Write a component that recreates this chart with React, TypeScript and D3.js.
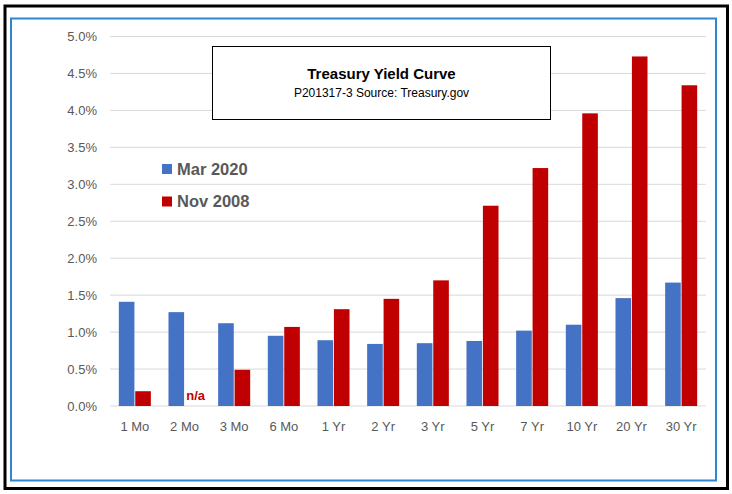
import React from "react";
import * as d3 from "d3";

const categories = ["1 Mo", "2 Mo", "3 Mo", "6 Mo", "1 Yr", "2 Yr", "3 Yr", "5 Yr", "7 Yr", "10 Yr", "20 Yr", "30 Yr"];
const seriesNames = ["Mar 2020", "Nov 2008"];
const mar2020: (number | null)[] = [1.41, 1.27, 1.12, 0.95, 0.89, 0.84, 0.85, 0.88, 1.02, 1.10, 1.46, 1.67];
const nov2008: (number | null)[] = [0.20, null, 0.49, 1.07, 1.31, 1.45, 1.70, 2.71, 3.22, 3.96, 4.73, 4.34];
const yTicks = [0, 0.5, 1.0, 1.5, 2.0, 2.5, 3.0, 3.5, 4.0, 4.5, 5.0];
const colors = ["#4472C4", "#C00000"];
const titleText = "Treasury Yield Curve";
const subtitleText = "P201317-3 Source: Treasury.gov";

export default function App() {
  const W = 732, H = 494;
  const x = d3.scaleBand<string>().domain(categories).range([110, 706]).paddingInner(0.355).paddingOuter(0.1775);
  const xs = d3.scaleBand<string>().domain(seriesNames).range([0, x.bandwidth()]).paddingInner(0.05);
  const y = d3.scaleLinear().domain([0, 5]).range([406, 36.5]);
  const series = [mar2020, nov2008];
  const font = "'Liberation Sans', Arial, sans-serif";
  const grey = "#595959";

  return (
    <svg width={W} height={H} style={{ position: "absolute", left: 0, top: 0, background: "#fff" }} fontFamily={font}>
      <rect x={0} y={0} width={W} height={H} fill="#fff" />
      <rect x={5} y={6} width={722.5} height={482.5} fill="none" stroke="#000" strokeWidth={3} />
      <rect x={11} y={18.5} width={705} height={462} fill="none" stroke="#2E86D0" strokeWidth={2} />
      {/* grid */}
      {yTicks.map((t) => (
        <g key={t}>
          <line x1={110} x2={706} y1={y(t)} y2={y(t)} stroke="#d9d9d9" strokeWidth={1} />
          <text x={97} y={y(t)} dy="0.35em" textAnchor="end" fontSize={13} fill={grey}>
            {t.toFixed(1) + "%"}
          </text>
        </g>
      ))}
      {/* bars */}
      {series.map((vals, si) =>
        vals.map((v, i) =>
          v == null ? null : (
            <rect
              key={si + "-" + i}
              x={(x(categories[i]) as number) + (xs(seriesNames[si]) as number)}
              y={y(v)}
              width={xs.bandwidth()}
              height={y(0) - y(v)}
              fill={colors[si]}
            />
          )
        )
      )}
      {/* n/a label */}
      {nov2008.map((v, i) =>
        v == null ? (
          <text key={"na" + i} x={(x(categories[i]) as number) + (xs(seriesNames[1]) as number) + xs.bandwidth() / 2 + 3} y={400} textAnchor="middle" fontSize={13} fontWeight="bold" fill="#C00000">
            n/a
          </text>
        ) : null
      )}
      {/* x labels */}
      {categories.map((c) => (
        <text key={c} x={(x(c) as number) + x.bandwidth() / 2} y={431} textAnchor="middle" fontSize={13} fill={grey}>
          {c}
        </text>
      ))}
      {/* title box */}
      <rect x={212.5} y={46.5} width={338} height={73} fill="#fff" stroke="#000" strokeWidth={1} />
      <text x={381.5} y={79} textAnchor="middle" fontSize={15} fontWeight="bold" fill="#000">{titleText}</text>
      <text x={381.5} y={97} textAnchor="middle" fontSize={12} fill="#000">{subtitleText}</text>
      {/* legend */}
      {seriesNames.map((s, i) => (
        <g key={s}>
          <rect x={162} y={164 + i * 32.5} width={10} height={10} fill={colors[i]} />
          <text x={177} y={174.5 + i * 32.5} fontSize={16.5} fontWeight="bold" fill={grey}>{s}</text>
        </g>
      ))}
    </svg>
  );
}
